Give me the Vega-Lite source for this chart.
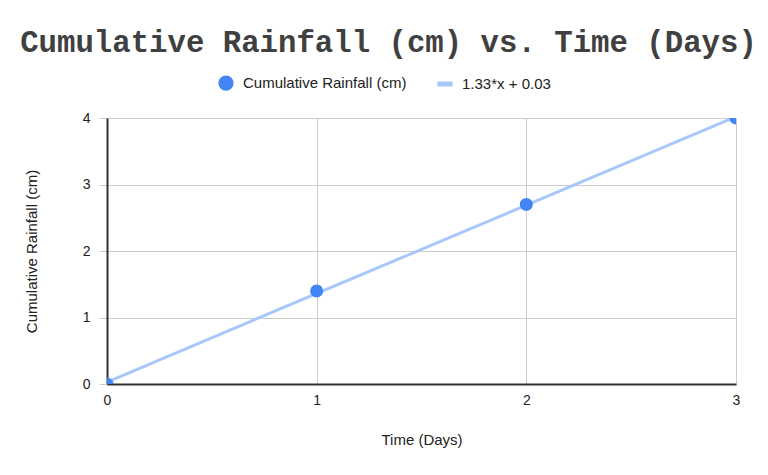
{
  "$schema": "https://vega.github.io/schema/vega-lite/v6.json",
  "width": 629,
  "height": 266,
  "autosize": {"type": "none"},
  "padding": {"left": 107, "top": 118, "right": 32, "bottom": 91},
  "background": "white",
  "title": {
    "text": "Cumulative Rainfall (cm) vs. Time (Days)",
    "font": "Liberation Mono",
    "fontWeight": "bold",
    "fontSize": 30.7,
    "color": "#404040",
    "anchor": "middle",
    "frame": "group",
    "baseline": "alphabetic",
    "dx": -33,
    "offset": -8
  },
  "datasets": {
    "obs": [
      {"series": "Cumulative Rainfall (cm)", "day": 0, "rain": 0},
      {"series": "Cumulative Rainfall (cm)", "day": 1, "rain": 1.4},
      {"series": "Cumulative Rainfall (cm)", "day": 2, "rain": 2.7},
      {"series": "Cumulative Rainfall (cm)", "day": 3, "rain": 4}
    ],
    "trend": [
      {"series": "1.33*x + 0.03", "day": 0, "rain": 0.03},
      {"series": "1.33*x + 0.03", "day": 3, "rain": 4.02}
    ]
  },
  "config": {
    "view": {"stroke": null},
    "font": "Liberation Sans",
    "axis": {
      "labelFont": "Liberation Sans",
      "titleFont": "Liberation Sans",
      "labelFontSize": 14,
      "titleFontSize": 15,
      "titleFontWeight": "normal",
      "labelColor": "#222222",
      "titleColor": "#222222",
      "gridColor": "#cccccc",
      "domainColor": "#333333",
      "domainWidth": 2
    },
    "legend": {
      "labelFont": "Liberation Sans",
      "labelFontSize": 15,
      "labelColor": "#222222",
      "labelLimit": 400
    }
  },
  "layer": [
    {
      "data": {"name": "trend"},
      "mark": {"type": "line", "strokeWidth": 3, "clip": true},
      "encoding": {
        "x": {"field": "day", "type": "quantitative"},
        "y": {"field": "rain", "type": "quantitative"},
        "color": {"field": "series", "type": "nominal"}
      }
    },
    {
      "data": {"name": "obs"},
      "mark": {"type": "point", "filled": true, "size": 170, "opacity": 1, "clip": true},
      "encoding": {
        "x": {
          "field": "day",
          "type": "quantitative",
          "scale": {"domain": [0, 3], "nice": false, "zero": false},
          "axis": {
            "values": [0, 1, 2, 3],
            "format": "d",
            "grid": true,
            "ticks": false,
            "labelFlush": false,
            "labelPadding": 9,
            "title": "Time (Days)",
            "titlePadding": 25
          }
        },
        "y": {
          "field": "rain",
          "type": "quantitative",
          "scale": {"domain": [0, 4], "nice": false},
          "axis": {
            "values": [0, 1, 2, 3, 4],
            "format": "d",
            "grid": true,
            "labelFlush": false,
            "tickSize": 8,
            "tickColor": "#cccccc",
            "labelPadding": 9,
            "title": "Cumulative Rainfall (cm)",
            "titlePadding": 43
          }
        },
        "color": {
          "field": "series",
          "type": "nominal",
          "scale": {
            "domain": ["Cumulative Rainfall (cm)", "1.33*x + 0.03"],
            "range": ["#4285F4", "#A8C7FA"]
          },
          "legend": {
            "title": null,
            "orient": "none",
            "direction": "horizontal",
            "legendX": 111,
            "legendY": -43,
            "columnPadding": 28,
            "symbolSize": 190,
            "labelOffset": 9
          }
        },
        "shape": {
          "field": "series",
          "type": "nominal",
          "scale": {
            "domain": ["Cumulative Rainfall (cm)", "1.33*x + 0.03"],
            "range": ["circle", "M-1,-0.25H1V0.25H-1Z"]
          },
          "legend": {
            "title": null,
            "orient": "none",
            "direction": "horizontal",
            "legendX": 111,
            "legendY": -43,
            "columnPadding": 28,
            "symbolSize": 190,
            "labelOffset": 9
          }
        }
      }
    }
  ]
}
